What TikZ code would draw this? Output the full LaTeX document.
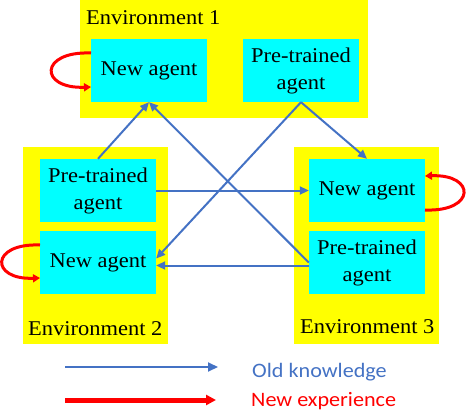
\documentclass[tikz,border=0pt]{standalone}
\usepackage{fontspec}
\setmainfont[FakeStretch=1.07]{Liberation Serif}
\newfontfamily\legendfont[FakeStretch=1.08]{Carlito}
\usetikzlibrary{arrows.meta}
\definecolor{oldblue}{HTML}{4472C4}
\definecolor{envyellow}{HTML}{FFFF00}
\definecolor{agentcyan}{HTML}{00FFFF}
\definecolor{newred}{HTML}{FF0000}
\tikzset{
  envbox/.style={fill=envyellow, draw=none, inner sep=0pt, anchor=north west},
  agentbox/.style={fill=agentcyan, draw=none, inner sep=0pt, minimum width=116pt, minimum height=63pt, align=center, font=\fontsize{21}{27}\selectfont},
  envlabel/.style={anchor=base west, inner sep=0pt, font=\fontsize{21}{24}\selectfont},
  oldarrow/.style={draw=oldblue, line width=2pt, -{Triangle[length=9pt,width=8pt]}},
  newloop/.style={draw=newred, line width=3pt, -{Triangle[length=7pt,width=8pt]}},
  legendtext/.style={anchor=base west, inner sep=0pt, font=\legendfont\fontsize{20.5}{24}\selectfont}
}
\begin{document}
\begin{tikzpicture}[x=1pt,y=-1pt]
\useasboundingbox (0,0) rectangle (466,412);
% environments
\node[envbox, minimum width=288pt, minimum height=118pt] (env1) at (80,0) {};
\node[envbox, minimum width=145pt, minimum height=197pt] (env2) at (23,147) {};
\node[envbox, minimum width=145pt, minimum height=197pt] (env3) at (294,147) {};
\node[envlabel] (lab1) at (86,25) {Environment 1};
\node[envlabel] (lab2) at (28,335) {Environment 2};
\node[envlabel] (lab3) at (300,333) {Environment 3};
% agents
\node[agentbox] (e1new) at (149,70.5) {New agent};
\node[agentbox] (e1pre) at (301,70.5) {Pre-trained\\agent};
\node[agentbox] (e2pre) at (98,190.5) {Pre-trained\\agent};
\node[agentbox] (e2new) at (98,262.5) {New agent};
\node[agentbox] (e3new) at (367,190.5) {New agent};
\node[agentbox] (e3pre) at (367,262.5) {Pre-trained\\agent};
% old knowledge transfers
\draw[oldarrow] (e2pre.north) -- (e1new.south);
\draw[oldarrow] (e3pre.west) -- (e1new.south);
\draw[oldarrow] (e1pre.south) -- (e3new.north);
\draw[oldarrow] (e1pre.south) -- ([yshift=4pt]e2new.east);
\draw[oldarrow] (e2pre.east) -- (e3new.west);
\draw[oldarrow] ([yshift=-3pt]e3pre.west) -- ([yshift=-3pt]e2new.east);
% new experience loops
\coordinate (l1a) at (91,53);
\coordinate (l1b) at (91,87);
\draw[newloop] (l1a) .. controls (39,51) and (39,89) .. (l1b);
\coordinate (l2a) at (40,245);
\coordinate (l2b) at (40,278);
\draw[newloop] (l2a) .. controls (-10,243) and (-10,280) .. (l2b);
\coordinate (l3a) at (425,210);
\coordinate (l3b) at (425,176);
\draw[newloop] (l3a) .. controls (476,212) and (476,174) .. (l3b);
% legend
\coordinate (lg1a) at (65,367);
\coordinate (lg1b) at (218,367);
\draw[draw=oldblue, line width=2pt, -{Triangle[length=10pt,width=9pt]}] (lg1a) -- (lg1b);
\node[legendtext, text=oldblue] (lt1) at (252,377) {Old knowledge};
\coordinate (lg2a) at (65,400);
\coordinate (lg2b) at (216,400);
\draw[draw=newred, line width=5pt, -{Triangle[length=10pt,width=10pt]}] (lg2a) -- (lg2b);
\node[legendtext, text=newred] (lt2) at (251,406) {New experience};
\end{tikzpicture}
\end{document}
